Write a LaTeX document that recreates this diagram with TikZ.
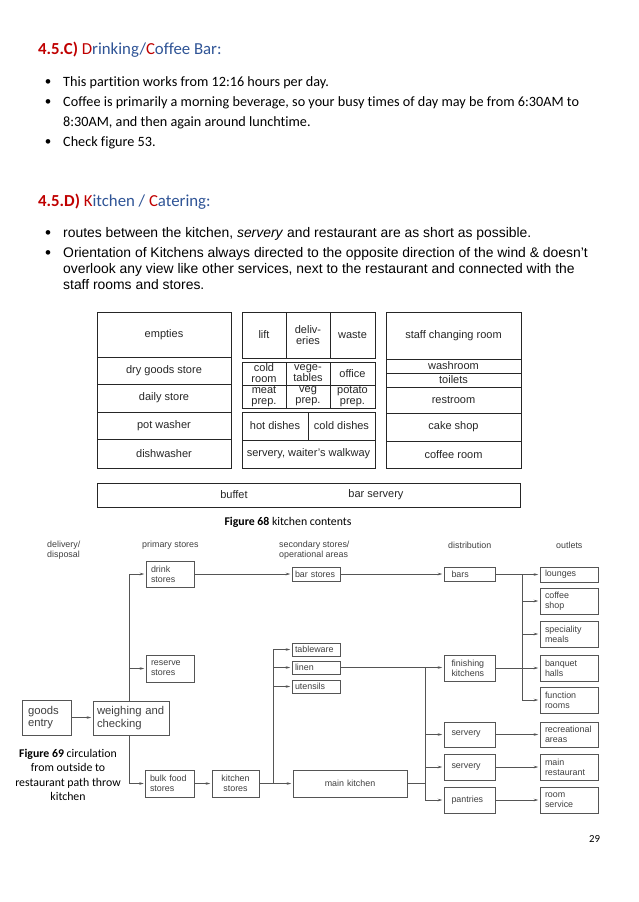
\documentclass[tikz,border=0pt]{standalone}
\usepackage{fontspec}
\setmainfont{Carlito}[Ligatures=CommonOff]
\newfontfamily\arialf{Liberation Sans}
\usetikzlibrary{arrows.meta}
\definecolor{hred}{RGB}{192,0,0}
\definecolor{hblue}{RGB}{47,84,150}
\definecolor{lncol}{RGB}{85,85,85}
\begin{document}
\begin{tikzpicture}[x=1pt,y=-1pt,
  body/.style={anchor=west, inner sep=0pt, font=\fontsize{14.2}{17}\selectfont},
  bodya/.style={anchor=west, inner sep=0pt, font=\arialf\fontsize{13.9}{16}\selectfont},
  head/.style={anchor=west, inner sep=0pt, font=\fontsize{16.8}{20}\selectfont},
  bul/.style={anchor=center, inner sep=0pt, font=\fontsize{13}{14}\selectfont},
  tl/.style={draw=black!85, line width=0.8pt},
  tt/.style={inner sep=0pt, align=center, text=black!85, font=\arialf\fontsize{11}{11}\selectfont},
  ln/.style={draw=lncol, line width=0.6pt},
  arr/.style={ln, -{Stealth[length=4.5pt,width=2.6pt]}, shorten >=1.5pt},
  fb/.style={draw=lncol, line width=0.6pt, text=black!75, inner ysep=0pt, align=left,
     font=\arialf\fontsize{8.9}{10}\selectfont},
  bx/.style n args={4}{minimum width=#1pt, minimum height=#2pt, inner xsep=#3pt, text width=#4pt},
  hd/.style={anchor=west, inner sep=0pt, align=left, text=black!75, font=\arialf\fontsize{8.9}{10}\selectfont},
  capt/.style={inner sep=0pt, align=center, font=\fontsize{11.8}{14.4}\selectfont}
]
\useasboundingbox (0,0) rectangle (638,902);
\fill[white] (0,0) rectangle (638,902);

% ---------- Section C ----------
\node[head] (hC) at (38,50) {\textcolor{hred}{\textbf{4.5.C)}} \textcolor{hred}{D}\textcolor{hblue}{rinking/}\textcolor{hred}{C}\textcolor{hblue}{offee Bar:}};
\node[bul] (bc1) at (48,83) {•};
\node[body] (c1) at (63,83) {This partition works from 12:16 hours per day.};
\node[bul] (bc2) at (48,103) {•};
\node[body] (c2) at (63,103) {Coffee is primarily a morning beverage, so your busy times of day may be from 6:30AM to};
\node[body] (c3) at (63,123) {8:30AM, and then again around lunchtime.};
\node[bul] (bc3) at (48,143) {•};
\node[body] (c4) at (63,143) {Check figure 53.};

% ---------- Section D ----------
\node[head] (hD) at (38,202) {\textcolor{hred}{\textbf{4.5.D)}} \textcolor{hred}{K}\textcolor{hblue}{itchen / }\textcolor{hred}{C}\textcolor{hblue}{atering:}};
\node[bul] (bd1) at (48,234) {•};
\node[bodya] (d1) at (63,234) {routes between the kitchen, \textit{servery} and restaurant are as short as possible.};
\node[bul] (bd2) at (48,254) {•};
\node[bodya] (d2) at (63,254) {Orientation of Kitchens always directed to the opposite direction of the wind \& doesn’t};
\node[bodya] (d3) at (63,269.5) {overlook any view like other services, next to the restaurant and connected with the};
\node[bodya] (d4) at (63,285) {staff rooms and stores.};

% ---------- Figure 68 : kitchen contents ----------
% left block
\draw[tl] (97,312) rectangle (231,468);
\foreach \yy in {357,384,412,439} \draw[tl] (97,\yy) -- (231,\yy);
\node[tt] (empties) at (164,334.5) {empties};
\node[tt] (dry) at (164,370.5) {dry goods store};
\node[tt] (daily) at (164,398) {daily store};
\node[tt] (pot) at (164,425.5) {pot washer};
\node[tt] (dish) at (164,453.5) {dishwasher};
% middle block A
\draw[tl] (242,312) rectangle (375,358);
\draw[tl] (286,312) -- (286,358) (330,312) -- (330,358);
\node[tt] (lift) at (264,335) {lift};
\node[tt] (deliv) at (308,335) {deliv-\\eries};
\node[tt] (waste) at (352.5,335) {waste};
% middle block B
\draw[tl] (242,362) rectangle (375,408);
\draw[tl] (242,385) -- (375,385) (286,362) -- (286,408) (330,362) -- (330,408);
\node[tt] (cold) at (264,373.5) {cold\\room};
\node[tt] (vege) at (308,373.5) {vege-\\tables};
\node[tt] (office) at (352.5,373.5) {office};
\node[tt] (meat) at (264,396.5) {meat\\prep.};
\node[tt] (vegp) at (308,396.5) {veg\\prep.};
\node[tt] (potato) at (352.5,396.5) {potato\\prep.};
% middle block C
\draw[tl] (242,412) rectangle (375,468);
\draw[tl] (242,440) -- (375,440) (308,412) -- (308,440);
\node[tt] (hot) at (275,426) {hot dishes};
\node[tt] (colddish) at (341.5,426) {cold dishes};
\node[tt] (servw) at (308.5,454) {servery, waiter’s walkway};
% right block
\draw[tl] (386,312) rectangle (521,468);
\foreach \yy in {359,373,387,413,441} \draw[tl] (386,\yy) -- (521,\yy);
\node[tt] (staff) at (453.5,335.5) {staff changing room};
\node[tt] (wash) at (453.5,366) {washroom};
\node[tt] (toil) at (453.5,380) {toilets};
\node[tt] (rest) at (453.5,400) {restroom};
\node[tt] (cake) at (453.5,427) {cake shop};
\node[tt] (coffeer) at (453.5,454.5) {coffee room};
% bottom bar
\draw[tl] (97,483) rectangle (520,507);
\node[tt] (buffet) at (234,495) {buffet};
\node[tt] (barserv) at (376,495) {bar servery};
\node[capt] (cap68) at (288,522) {\textbf{Figure 68} kitchen contents};

% ---------- Figure 69 : circulation ----------
\node[hd] (h1) at (47,550) {delivery/\\disposal};
\node[hd] (h2) at (142,545) {primary stores};
\node[hd] (h3) at (279,550) {secondary stores/\\operational areas};
\node[hd] (h4) at (448,545) {distribution};
\node[hd] (h5) at (556,545) {outlets};

\node[fb, bx={49}{35}{6}{37}, font=\arialf\fontsize{11.3}{12.5}\selectfont] (goods) at (46.5,717.5) {goods\\entry};
\node[fb, bx={76}{34}{4}{68}, font=\arialf\fontsize{11.3}{12.5}\selectfont] (weigh) at (131,718) {weighing and\\checking};

\node[fb, bx={46}{26}{5}{38}] (drink) at (170,574) {drink\\stores};
\node[fb, bx={46}{27}{5}{38}] (reserve) at (170,668.5) {reserve\\stores};
\node[fb, bx={46}{27}{4.5}{40}] (bulk) at (170,783.5) {bulk food\\stores};
\node[fb, bx={47}{27}{2}{43}, align=center] (kst) at (235.5,783.5) {kitchen\\stores};

\node[fb, bx={46}{14}{3}{42}] (barst) at (316,574) {bar stores};
\node[fb, bx={46}{13}{3}{42}] (table) at (316,649.5) {tableware};
\node[fb, bx={46}{13}{3}{42}] (linen) at (316,667.5) {linen};
\node[fb, bx={46}{13}{3}{42}] (uten) at (316,686.5) {utensils};
\node[fb, bx={114}{27}{2}{110}, align=center] (mainK) at (350,783.5) {main kitchen};

\node[fb, bx={49}{14}{7.5}{36}] (bars) at (469.5,574) {bars};
\node[fb, bx={49}{26}{7.5}{36}] (finish) at (469.5,668) {finishing\\kitchens};
\node[fb, bx={49}{25}{7.5}{36}] (serv1) at (469.5,734.5) {servery};
\node[fb, bx={49}{26}{7.5}{36}] (serv2) at (469.5,767) {servery};
\node[fb, bx={49}{26}{7.5}{36}] (pant) at (469.5,800) {pantries};

\node[fb, bx={56}{15}{5}{48}] (lounge) at (569,574.5) {lounges};
\node[fb, bx={56}{26}{5}{48}] (cshop) at (569,601) {coffee\\shop};
\node[fb, bx={56}{26}{5}{48}] (spec) at (569,634) {speciality\\meals};
\node[fb, bx={56}{26}{5}{48}] (banq) at (569,668) {banquet\\halls};
\node[fb, bx={56}{26}{5}{48}] (func) at (569,700) {function\\rooms};
\node[fb, bx={56}{25}{5}{48}] (recr) at (569,734.5) {recreational\\areas};
\node[fb, bx={56}{26}{5}{48}] (mrest) at (569,767) {main\\restaurant};
\node[fb, bx={56}{26}{5}{48}] (rserv) at (569,800) {room\\service};

\coordinate (tA) at (129,0);
\coordinate (tC) at (273,0);
\coordinate (tD) at (425,0);
\coordinate (tB) at (522,0);

\draw[arr] (goods.east) -- (goods.east -| weigh.west);
\draw[ln] (weigh.north -| tA) -- (tA |- drink.west);
\draw[arr] (tA |- drink.west) -- (drink.west);
\draw[arr] (tA |- reserve.west) -- (reserve.west);
\draw[ln] (weigh.south -| tA) -- (tA |- bulk.west);
\draw[arr] (tA |- bulk.west) -- (bulk.west);
\draw[arr] (bulk.east) -- (kst.west);

\draw[arr] (drink.east) -- (barst.west);
\draw[arr] (barst.east) -- (bars.west);

\draw[ln] (tC |- mainK.west) -- (tC |- table.west);
\draw[arr] (kst.east) -- (mainK.west);
\draw[arr] (tC |- table.west) -- (table.west);
\draw[arr] (tC |- linen.west) -- (linen.west);
\draw[arr] (tC |- uten.west) -- (uten.west);

\draw[arr] (linen.east) -- (linen.east -| finish.west);
\draw[ln] (tD |- linen.east) -- (tD |- pant.west);
\draw[ln] (mainK.east) -- (tD |- mainK.east);
\draw[arr] (tD |- serv1.west) -- (serv1.west);
\draw[arr] (tD |- serv2.west) -- (serv2.west);
\draw[arr] (tD |- pant.west) -- (pant.west);

\draw[ln] (bars.east) -- (tB |- bars.east) -- (tB |- func.west);
\draw[arr] (tB |- lounge.west) -- (lounge.west);
\draw[arr] (tB |- cshop.west) -- (cshop.west);
\draw[arr] (tB |- spec.west) -- (spec.west);
\draw[arr] (finish.east) -- (banq.west);
\draw[arr] (tB |- func.west) -- (func.west);

\draw[arr] (serv1.east) -- (recr.west);
\draw[arr] (serv2.east) -- (mrest.west);
\draw[arr] (pant.east) -- (rserv.west);

\node[capt] (cap69) at (68,775) {\textbf{Figure 69} circulation\\from outside to\\restaurant path throw\\kitchen};

\node[inner sep=0pt, font=\fontsize{10.8}{12}\selectfont] (pg) at (594.5,839) {29};
\end{tikzpicture}
\end{document}
